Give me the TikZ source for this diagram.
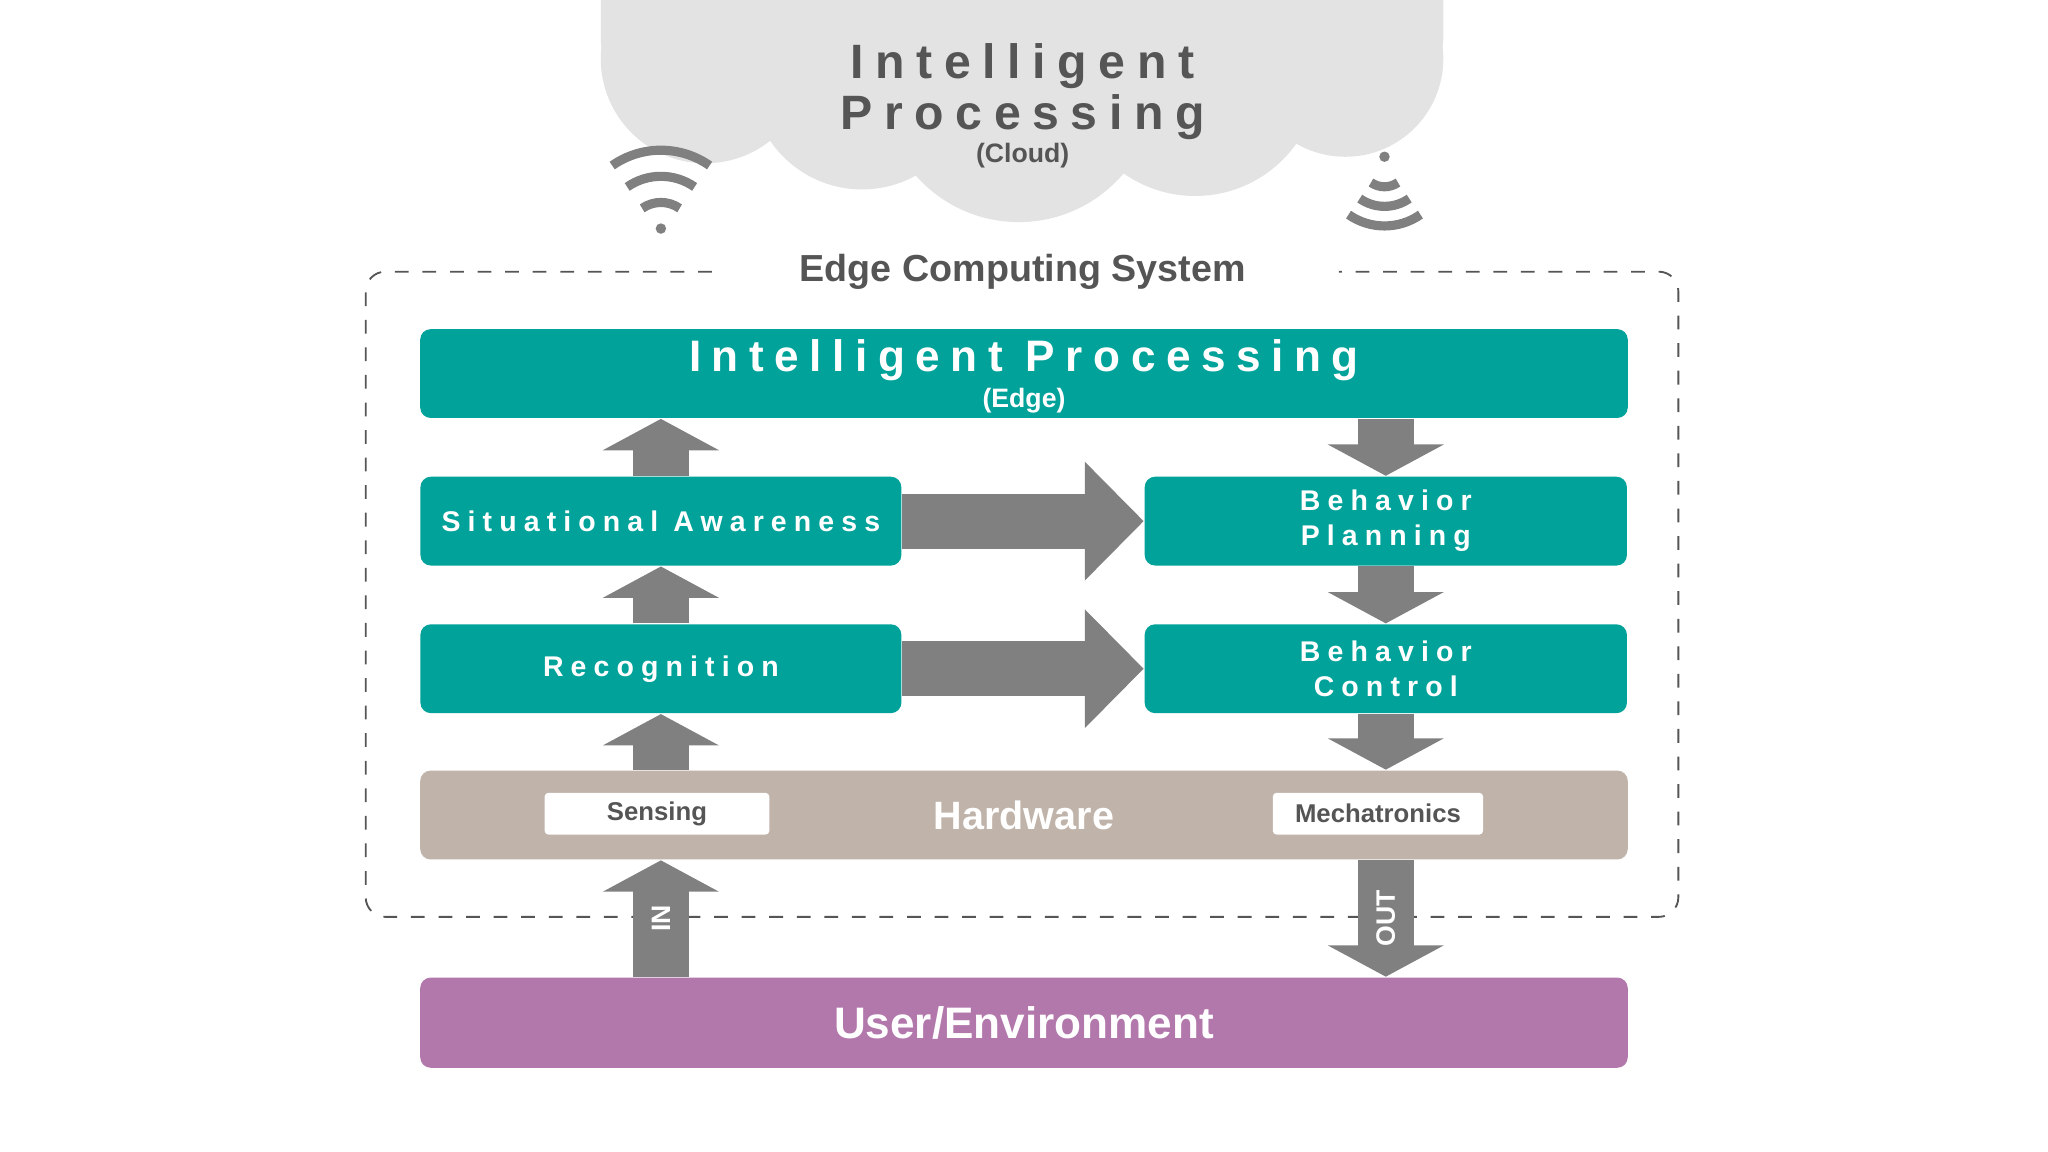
\documentclass[tikz,border=0pt]{standalone}
\usepackage{fontspec}
\setmainfont{Liberation Sans}
\usetikzlibrary{positioning}
\usetikzlibrary{arrows.meta}
\definecolor{teal}{HTML}{00A29A}
\definecolor{hwcol}{HTML}{C0B3AA}
\definecolor{envcol}{HTML}{B278AC}
\definecolor{arrcol}{HTML}{808080}
\definecolor{txtcol}{HTML}{555555}
\newcommand{\spaced}[2]{{\addfontfeature{LetterSpace=#1}#2}}
\tikzset{x=0.01cm, y=-0.01cm,
    box/.style={
        fill=teal,
        rounded corners=0.08cm,
        inner sep=0pt,
        minimum height=0.68cm,
        text=white,
        align=center,
        font=\fontsize{6.2}{7.6}\selectfont\bfseries},
    tag/.style={
        fill=white,
        rounded corners=0.03cm,
        inner sep=0pt,
        minimum height=0.32cm,
        text=txtcol,
        font=\fontsize{5.6}{6}\selectfont\bfseries},
    fat/.style={
        draw=arrcol,
        line width=0.43cm,
        -{Triangle[width=0.88cm,length=0.24cm]}},
    bigfat/.style={
        draw=arrcol,
        line width=0.42cm,
        -{Triangle[width=0.88cm,length=0.45cm]}}}
\begin{document}
\begin{tikzpicture}
    \useasboundingbox (0,0) rectangle (1568,882);

    % cloud
    \fill[gray!22,rounded corners=0.3cm] (460,-40) rectangle (1105,60);
    \fill[gray!22] (540,45) circle[radius=0.8cm];
    \fill[gray!22] (660,60) circle[radius=0.85cm];
    \fill[gray!22] (780,65) circle[radius=1.05cm];
    \fill[gray!22] (915,55) circle[radius=0.95cm];
    \fill[gray!22] (1030,45) circle[radius=0.75cm];
    \node[text=txtcol,align=center,font=\fontsize{10.5}{11.2}\selectfont\bfseries] (cloud) at (783,70)
        {\spaced{24}{Intelligent}\\\spaced{24}{Processing}};
    \node[text=txtcol,font=\fontsize{5.8}{6}\selectfont\bfseries] (cloudsub) at (783,119) {(Cloud)};

    % wireless signs
    \fill[arrcol] (506,175) circle[radius=0.04cm];
    \foreach \r in {25,45,65}
        \draw[arrcol,line width=0.07cm] (506,180) ++(55:\r*0.01cm) arc[start angle=55,end angle=125,radius=\r*0.01cm];
    \fill[arrcol] (1060,120) circle[radius=0.04cm];
    \foreach \r in {18,33,48}
        \draw[arrcol,line width=0.07cm] (1060,125) ++(-55:\r*0.01cm) arc[start angle=-55,end angle=-125,radius=\r*0.01cm];

    % edge system frame
    \draw[txtcol,dashed,rounded corners=0.15cm] (545,208) -- (280,208) -- (280,702) -- (1285,702) -- (1285,208) -- (1025,208);
    \node[text=txtcol,font=\fontsize{8.2}{9}\selectfont\bfseries] (edge) at (783,208) {Edge Computing System};

    % blocks
    \node[box,minimum width=9.24cm] (ip) at (784,286) {};
    \node[text=white,font=\fontsize{9.6}{10}\selectfont\bfseries] (iptitle) at (784,276) {\spaced{24}{Intelligent Processing}};
    \node[text=white,font=\fontsize{5.8}{6}\selectfont\bfseries] (ipsub) at (784,307) {(Edge)};
    \node[box,minimum width=3.68cm] (sa) at (506,399) {\spaced{25}{Situational Awareness}};
    \node[box,minimum width=3.69cm] (bp) at (1061,399) {\spaced{25}{Behavior}\\\spaced{25}{Planning}};
    \node[box,minimum width=3.68cm] (rec) at (506,512) {\spaced{25}{Recognition}};
    \node[box,minimum width=3.69cm] (bc) at (1061,512) {\spaced{25}{Behavior}\\\spaced{25}{Control}};
    \node[box,fill=hwcol,minimum width=9.24cm,font=\fontsize{8.6}{9}\selectfont\bfseries] (hw) at (784,624) {Hardware};
    \node[tag,minimum width=1.72cm] (sens) at (503,623) {Sensing};
    \node[tag,minimum width=1.61cm] (mech) at (1055,623) {Mechatronics};
    \node[box,fill=envcol,minimum width=9.24cm,minimum height=0.69cm,font=\fontsize{9.6}{10}\selectfont\bfseries] (env) at (784,783) {User/Environment};

    % arrows
    \draw[fat] (sa.north) -- (sa.north |- ip.south);
    \draw[fat] (rec.north) -- (sa.south);
    \draw[fat] (hw.north -| rec) -- (rec.south);
    \draw[fat] (ip.south -| bp) -- (bp.north);
    \draw[fat] (bp.south) -- (bc.north);
    \draw[fat] (bc.south) -- (hw.north -| bc);
    \draw[bigfat] (sa.east) -- (bp.west);
    \draw[bigfat] (rec.east) -- (bc.west);
    \draw[fat] (env.north -| sa) -- (hw.south -| sa);
    \draw[fat] (hw.south -| bp) -- (env.north -| bp);
    \node[rotate=90,text=white,font=\fontsize{5.8}{6}\selectfont\bfseries] (in) at (506,703) {IN};
    \node[rotate=90,text=white,font=\fontsize{5.8}{6}\selectfont\bfseries] (out) at (1061,703) {OUT};
\end{tikzpicture}
\end{document}
